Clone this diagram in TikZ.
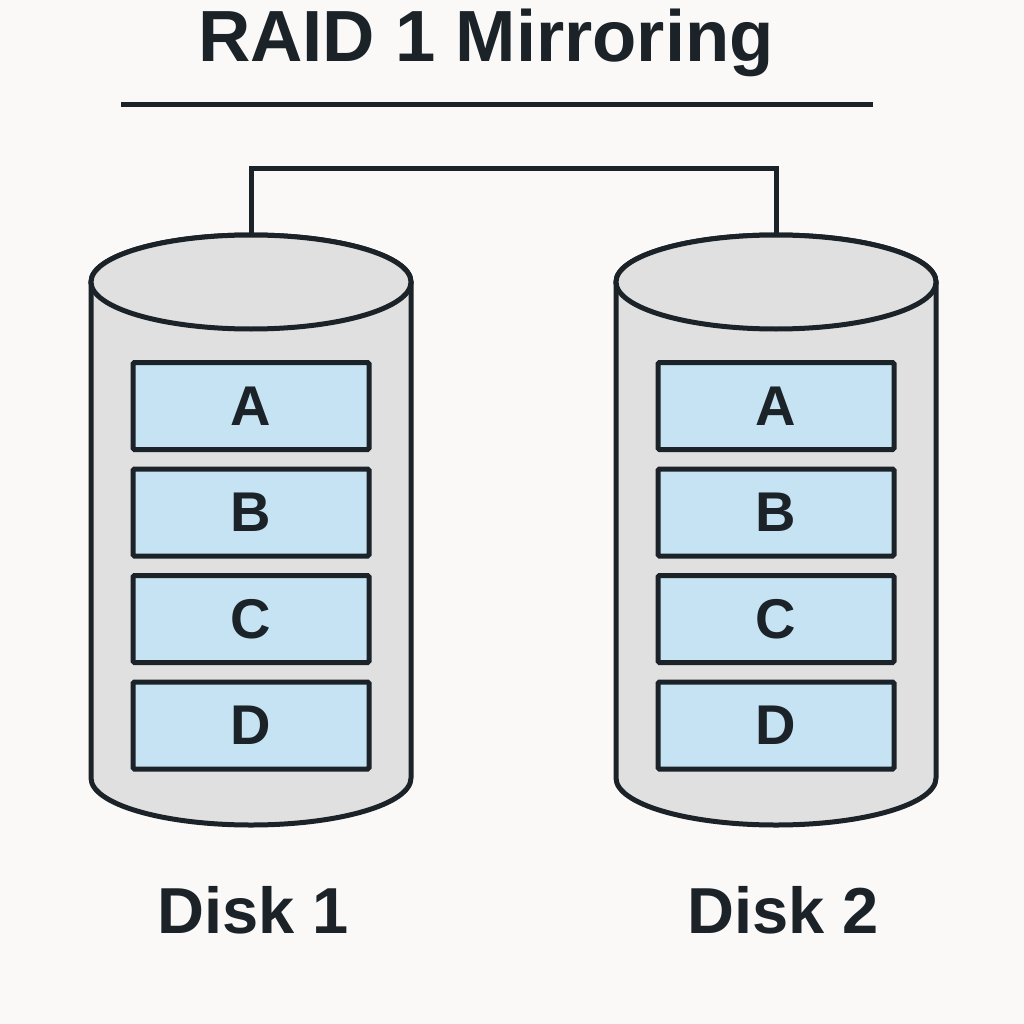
\documentclass[tikz,border=0pt]{standalone}
\usepackage{fontspec}
\setmainfont{Liberation Sans}
\usetikzlibrary{positioning, shapes.geometric}
\definecolor{ink}{HTML}{1B2228}
\definecolor{paper}{HTML}{FAF9F7}
\definecolor{disc}{HTML}{E0E0E0}
\definecolor{blockblue}{HTML}{C5E3F3}

\begin{document}
\begin{tikzpicture}[x=1pt,y=-1pt,line width=5pt,draw=ink,text=ink,node distance=14.5pt,
  disktop/.style={ellipse,draw=ink,fill=disc,minimum width=320pt,minimum height=94pt,inner sep=0pt,outer sep=0pt},
  diskbody/.style={draw=ink,fill=disc,line join=round},
  block/.style={rectangle,draw=ink,fill=blockblue,rounded corners=1.5pt,minimum width=236pt,minimum height=87pt,
    inner sep=0pt,font=\fontsize{56}{56}\selectfont\bfseries},
  label/.style={font=\fontsize{65}{65}\selectfont\bfseries}]
  \useasboundingbox[fill=paper] (0,0) rectangle (1024,1024);

  \node[font=\fontsize{72.5}{72.5}\selectfont\bfseries] (title) at (486,43) {RAID 1 Mirroring};
  \coordinate (ruleL) at (121,105);
  \coordinate (ruleR) at (873,105);
  \draw (ruleL) -- (ruleR);

  \node[disktop] (top1) at (251,282) {};
  \node[disktop] (top2) at (776,282) {};

  % bodies sit behind the tops, so the tops are drawn again after them
  \draw[diskbody] (top1.west) -- ++(0,496) arc[x radius=160pt,y radius=47pt,start angle=180,end angle=360] -- (top1.east);
  \draw[diskbody] (top2.west) -- ++(0,496) arc[x radius=160pt,y radius=47pt,start angle=180,end angle=360] -- (top2.east);
  \node[disktop] at (top1) {};
  \node[disktop] at (top2) {};

  \coordinate (bus) at (513,169);
  \draw (top1.north) |- (bus) -| (top2.north);

  \node[block] (a1) at (251,406) {A};
  \node[block] (b1) [below=of a1] {B};
  \node[block] (c1) [below=of b1] {C};
  \node[block] (d1) [below=of c1] {D};

  \node[block] (a2) at (776,406) {A};
  \node[block] (b2) [below=of a2] {B};
  \node[block] (c2) [below=of b2] {C};
  \node[block] (d2) [below=of c2] {D};

  \node[label] (name1) at (253,910) {Disk 1};
  \node[label] (name2) at (783,910) {Disk 2};
\end{tikzpicture}
\end{document}
